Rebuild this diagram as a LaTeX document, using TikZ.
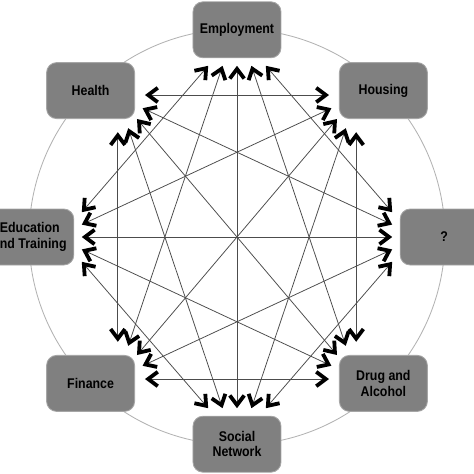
\documentclass[tikz,border=0pt]{standalone}
\usepackage{fontspec}
\newfontfamily\boxfont{Liberation Sans}[FakeStretch=0.88]
\usetikzlibrary{arrows.meta,positioning}

\begin{document}
\begin{tikzpicture}[
    box/.style={rectangle, draw=black!35, line width=0.6pt, fill=black!50, rounded corners=2.5mm, minimum width=2.2cm, minimum height=1.4cm, align=center, font=\boxfont\fontsize{10}{11}\selectfont\bfseries},
    ring/.style={draw=black!30, line width=0.6pt},
    barb/.tip={Straight Barb[length=2.4mm, width=3.6mm, line width'=0.95mm, color=black]},
    link/.style={draw=black!70, line width=0.55pt, barb-barb}
]

\clip (-5.925,-5.925) rectangle (5.925,5.925);

% Outer ring
\draw[ring] (0,0) circle (5.2);

% Boxes
\node[box] (emp) at (0, 5.18) {Employment};
\node[box] (hou) at (3.66, 3.66) {Housing};
\node[box] (unk) at (5.18, 0) {?};
\node[box] (drug) at (3.66, -3.66) {Drug and\\Alcohol};
\node[box] (soc) at (0, -5.18) {Social\\Network};
\node[box] (fin) at (-3.66, -3.66) {Finance};
\node[box] (edu) at (-5.18, 0) {Education\\and Training};
\node[box] (hea) at (-3.66, 3.66) {Health};

% Ports - Employment
\coordinate (emp-edu) at (-0.72, 4.28);
\coordinate (emp-fin) at (-0.36, 4.28);
\coordinate (emp-soc) at (0, 4.28);
\coordinate (emp-drug) at (0.36, 4.28);
\coordinate (emp-unk) at (0.72, 4.28);

% Ports - Social Network
\coordinate (soc-edu) at (-0.72, -4.28);
\coordinate (soc-hea) at (-0.36, -4.28);
\coordinate (soc-emp) at (0, -4.28);
\coordinate (soc-hou) at (0.36, -4.28);
\coordinate (soc-unk) at (0.72, -4.28);

% Ports - Education
\coordinate (edu-emp) at (-3.88, 0.62);
\coordinate (edu-hou) at (-3.88, 0.31);
\coordinate (edu-unk) at (-3.88, 0);
\coordinate (edu-drug) at (-3.88, -0.31);
\coordinate (edu-soc) at (-3.88, -0.62);

% Ports - ?
\coordinate (unk-emp) at (3.88, 0.62);
\coordinate (unk-hea) at (3.88, 0.31);
\coordinate (unk-edu) at (3.88, 0);
\coordinate (unk-fin) at (3.88, -0.31);
\coordinate (unk-soc) at (3.88, -0.62);

% Ports - Health
\coordinate (hea-hou) at (-2.3, 3.55);
\coordinate (hea-unk) at (-2.36, 3.22);
\coordinate (hea-drug) at (-2.5, 2.95);
\coordinate (hea-soc) at (-2.72, 2.72);
\coordinate (hea-fin) at (-2.98, 2.62);

% Ports - Housing
\coordinate (hou-hea) at (2.3, 3.55);
\coordinate (hou-edu) at (2.36, 3.22);
\coordinate (hou-fin) at (2.5, 2.95);
\coordinate (hou-soc) at (2.72, 2.72);
\coordinate (hou-drug) at (2.98, 2.62);

% Ports - Finance
\coordinate (fin-drug) at (-2.3, -3.55);
\coordinate (fin-unk) at (-2.36, -3.22);
\coordinate (fin-hou) at (-2.5, -2.95);
\coordinate (fin-emp) at (-2.72, -2.72);
\coordinate (fin-hea) at (-2.98, -2.62);

% Ports - Drug and Alcohol
\coordinate (drug-fin) at (2.3, -3.55);
\coordinate (drug-edu) at (2.36, -3.22);
\coordinate (drug-hea) at (2.5, -2.95);
\coordinate (drug-emp) at (2.72, -2.72);
\coordinate (drug-hou) at (2.98, -2.62);

% Links two steps apart
\draw[link] (emp-unk) -- (unk-emp);
\draw[link] (hou-drug) -- (drug-hou);
\draw[link] (unk-soc) -- (soc-unk);
\draw[link] (drug-fin) -- (fin-drug);
\draw[link] (soc-edu) -- (edu-soc);
\draw[link] (fin-hea) -- (hea-fin);
\draw[link] (edu-emp) -- (emp-edu);
\draw[link] (hea-hou) -- (hou-hea);

% Links three steps apart
\draw[link] (emp-drug) -- (drug-emp);
\draw[link] (hou-soc) -- (soc-hou);
\draw[link] (unk-fin) -- (fin-unk);
\draw[link] (drug-edu) -- (edu-drug);
\draw[link] (soc-hea) -- (hea-soc);
\draw[link] (fin-emp) -- (emp-fin);
\draw[link] (edu-hou) -- (hou-edu);
\draw[link] (hea-unk) -- (unk-hea);

% Links across
\draw[link] (emp-soc) -- (soc-emp);
\draw[link] (hou-fin) -- (fin-hou);
\draw[link] (unk-edu) -- (edu-unk);
\draw[link] (drug-hea) -- (hea-drug);

\end{tikzpicture}
\end{document}
